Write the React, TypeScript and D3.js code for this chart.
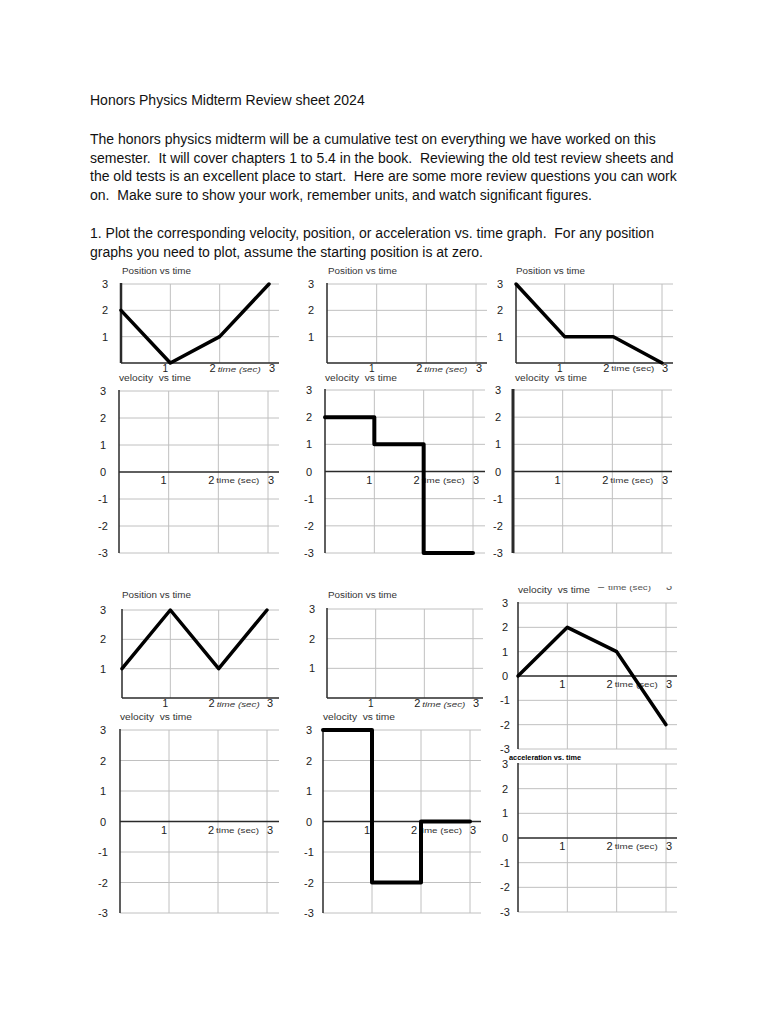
import React from "react";
import * as d3 from "d3";

// ---------- data ----------
const timeSec = [0, 1, 2, 3];
const xTicks = [1, 2, 3];
const posTicks = [3, 2, 1];
const velTicks = [3, 2, 1, 0, -1, -2, -3];

const pos1 = [2, 0, 1, 3];
const vel2 = [2, 1, -3, -3];
const pos3 = [3, 1, 1, 0];
const pos4 = [1, 3, 1, 3];
const vel5 = [3, -2, 0, 0];
const vel6 = [0, 2, 1, -2];

const headerTitle = "Honors Physics Midterm Review sheet 2024";
const paragraph = [
  "The honors physics midterm will be a cumulative test on everything we have worked on this",
  "semester.  It will cover chapters 1 to 5.4 in the book.  Reviewing the old test review sheets and",
  "the old tests is an excellent place to start.  Here are some more review questions you can work",
  "on.  Make sure to show your work, remember units, and watch significant figures.",
];
const question = [
  "1. Plot the corresponding velocity, position, or acceleration vs. time graph.  For any position",
  "graphs you need to plot, assume the starting position is at zero.",
];

// ---------- layout ----------
type PanelCfg = {
  kind: "pos" | "vel";
  left: number; right: number; top: number; bottom: number; extent: number;
  labelX: number; title: string; titleX: number; titleY: number;
  titleBold?: boolean; italicTime?: boolean; axisW?: number;
  values?: number[]; step?: boolean;
};

const FONT = "'Liberation Sans', Arial, Helvetica, sans-serif";

const panels: PanelCfg[] = [
  { kind: "pos", left: 121, right: 269, top: 284, bottom: 363, extent: 279, labelX: 105, title: "Position vs time", titleX: 122, titleY: 274, italicTime: true, axisW: 2.5, values: pos1 },
  { kind: "vel", left: 119, right: 268, top: 391, bottom: 553, extent: 279, labelX: 103, title: "velocity  vs time", titleX: 119, titleY: 381 },
  { kind: "pos", left: 327, right: 476, top: 284, bottom: 363, extent: 487, labelX: 311, title: "Position vs time", titleX: 328, titleY: 274, italicTime: true },
  { kind: "vel", left: 325, right: 473, top: 390, bottom: 553, extent: 485, labelX: 309, title: "velocity  vs time", titleX: 325, titleY: 381, values: vel2, step: true },
  { kind: "pos", left: 516, right: 662, top: 284, bottom: 363, extent: 673, labelX: 500, title: "Position vs time", titleX: 516, titleY: 274, values: pos3 },
  { kind: "vel", left: 513, right: 662, top: 390, bottom: 553, extent: 672, labelX: 498, title: "velocity  vs time", titleX: 515, titleY: 381, axisW: 3 },
  { kind: "pos", left: 122, right: 267, top: 610, bottom: 698, extent: 279, labelX: 103, title: "Position vs time", titleX: 122, titleY: 598, italicTime: true, values: pos4 },
  { kind: "vel", left: 120, right: 267, top: 730, bottom: 913, extent: 279, labelX: 103, title: "velocity  vs time", titleX: 120, titleY: 720 },
  { kind: "pos", left: 327, right: 473, top: 609, bottom: 698, extent: 483, labelX: 312, title: "Position vs time", titleX: 328, titleY: 598, italicTime: true },
  { kind: "vel", left: 323, right: 470, top: 730, bottom: 913, extent: 481, labelX: 309, title: "velocity  vs time", titleX: 323, titleY: 720, values: vel5, step: true },
  { kind: "vel", left: 518, right: 666, top: 603, bottom: 749, extent: 677, labelX: 505, title: "velocity  vs time", titleX: 518, titleY: 593, values: vel6 },
  { kind: "vel", left: 518, right: 666, top: 764, bottom: 912, extent: 677, labelX: 505, title: "acceleration vs. time", titleX: 509, titleY: 760, titleBold: true },
];

const GRID = "#c0c0c0";
const AXIS = "#2a2a2a";

function Panel({ p }: { p: PanelCfg }) {
  const x = d3.scaleLinear().domain([0, 3]).range([p.left, p.right]);
  const yDomain = p.kind === "pos" ? [0, 3] : [-3, 3];
  const y = d3.scaleLinear().domain(yDomain).range([p.bottom, p.top]);
  const yTicks = p.kind === "pos" ? posTicks : velTicks;
  const gridY = p.kind === "pos" ? [1, 2, 3] : [3, 2, 1, -1, -2, -3];
  const y0 = y(0);
  const pts: [number, number][] = (p.values || []).map((v, i) => [timeSec[i], v]);
  const line = d3
    .line<[number, number]>()
    .x((d) => x(d[0]))
    .y((d) => y(d[1]))
    .curve(p.step ? d3.curveStepAfter : d3.curveLinear);
  const lblBase = p.kind === "pos" ? p.bottom + 9 : y0 + 12;
  const titleLen = p.titleBold ? 72 : p.title.startsWith("velocity") ? 72 : 69;
  return (
    <g>
      {gridY.map((g) => (
        <line key={"h" + g} x1={p.left} x2={p.extent} y1={y(g)} y2={y(g)} stroke={GRID} strokeWidth={1} />
      ))}
      {xTicks.map((t) => (
        <line key={"v" + t} x1={x(t)} x2={x(t)} y1={y(yDomain[1])} y2={y(yDomain[0])} stroke={GRID} strokeWidth={1} />
      ))}
      <line x1={p.left} x2={p.extent} y1={y0} y2={y0} stroke={AXIS} strokeWidth={1.3} />
      <line x1={p.left} x2={p.left} y1={y(yDomain[1]) - 1} y2={y(yDomain[0])} stroke={AXIS} strokeWidth={p.axisW || 1.5} />
      {yTicks.map((t) => (
        <text key={"yl" + t} x={p.labelX} y={y(t) + 4} fontSize={11} textAnchor="middle" fill="#222" fontFamily={FONT}>
          {t < 0 ? "-" + Math.abs(t) : String(t)}
        </text>
      ))}
      <text x={x(1) - 5} y={lblBase} fontSize={p.kind === "pos" ? 10 : 11} textAnchor="middle" fill="#222" fontFamily={FONT}>1</text>
      <text x={x(2) - 7} y={lblBase} fontSize={11} textAnchor="middle" fill="#222" fontFamily={FONT}>2</text>
      <text
        x={x(2) - 2}
        y={lblBase + (p.italicTime ? 0 : -1)}
        fontSize={8}
        fontStyle={p.italicTime ? "italic" : "normal"}
        fill="#333"
        fontFamily={FONT}
        textLength={43}
        lengthAdjust="spacingAndGlyphs"
      >
        time (sec)
      </text>
      <text x={x(3) + 3} y={lblBase} fontSize={11} textAnchor="middle" fill="#222" fontFamily={FONT}>3</text>
      <text
        x={p.titleX}
        y={p.titleY}
        fontSize={p.titleBold ? 7.5 : 8.5}
        fontWeight={p.titleBold ? "bold" : "normal"}
        fill={p.titleBold ? "#000" : "#333"}
        fontFamily={FONT}
        textLength={titleLen}
        lengthAdjust="spacingAndGlyphs"
        style={{ whiteSpace: "pre" }}
      >
        {p.title}
      </text>
      {pts.length > 0 && (
        <path d={line(pts) || ""} fill="none" stroke="#000" strokeWidth={p.step ? 4 : 3.5} strokeLinejoin="round" strokeLinecap="round" />
      )}
    </g>
  );
}

export default function App() {
  const lineH = 18.7;
  return (
    <svg
      width={768}
      height={1024}
      style={{ position: "absolute", left: 0, top: 0, background: "#fff" }}
      fontFamily={FONT}
    >
      <rect x={0} y={0} width={768} height={1024} fill="#fff" />
      <text x={90} y={105} fontSize={14} fill="#111">{headerTitle}</text>
      {paragraph.map((t, i) => (
        <text key={"p" + i} x={90} y={144 + i * lineH} fontSize={14} fill="#111" style={{ whiteSpace: "pre" }}>{t}</text>
      ))}
      {question.map((t, i) => (
        <text key={"q" + i} x={90} y={238 + i * lineH} fontSize={14} fill="#111" style={{ whiteSpace: "pre" }}>{t}</text>
      ))}
      {panels.map((p, i) => (
        <Panel key={i} p={p} />
      ))}
      <defs>
        <clipPath id="cutTop">
          <rect x={590} y={586} width={100} height={10} />
        </clipPath>
      </defs>
      <g clipPath="url(#cutTop)">
        <text x={598} y={590} fontSize={11} fill="#555">–</text>
        <text x={608} y={590} fontSize={8} fill="#555" textLength={43} lengthAdjust="spacingAndGlyphs">time (sec)</text>
        <text x={666} y={590} fontSize={11} fill="#555">3</text>
      </g>
    </svg>
  );
}
